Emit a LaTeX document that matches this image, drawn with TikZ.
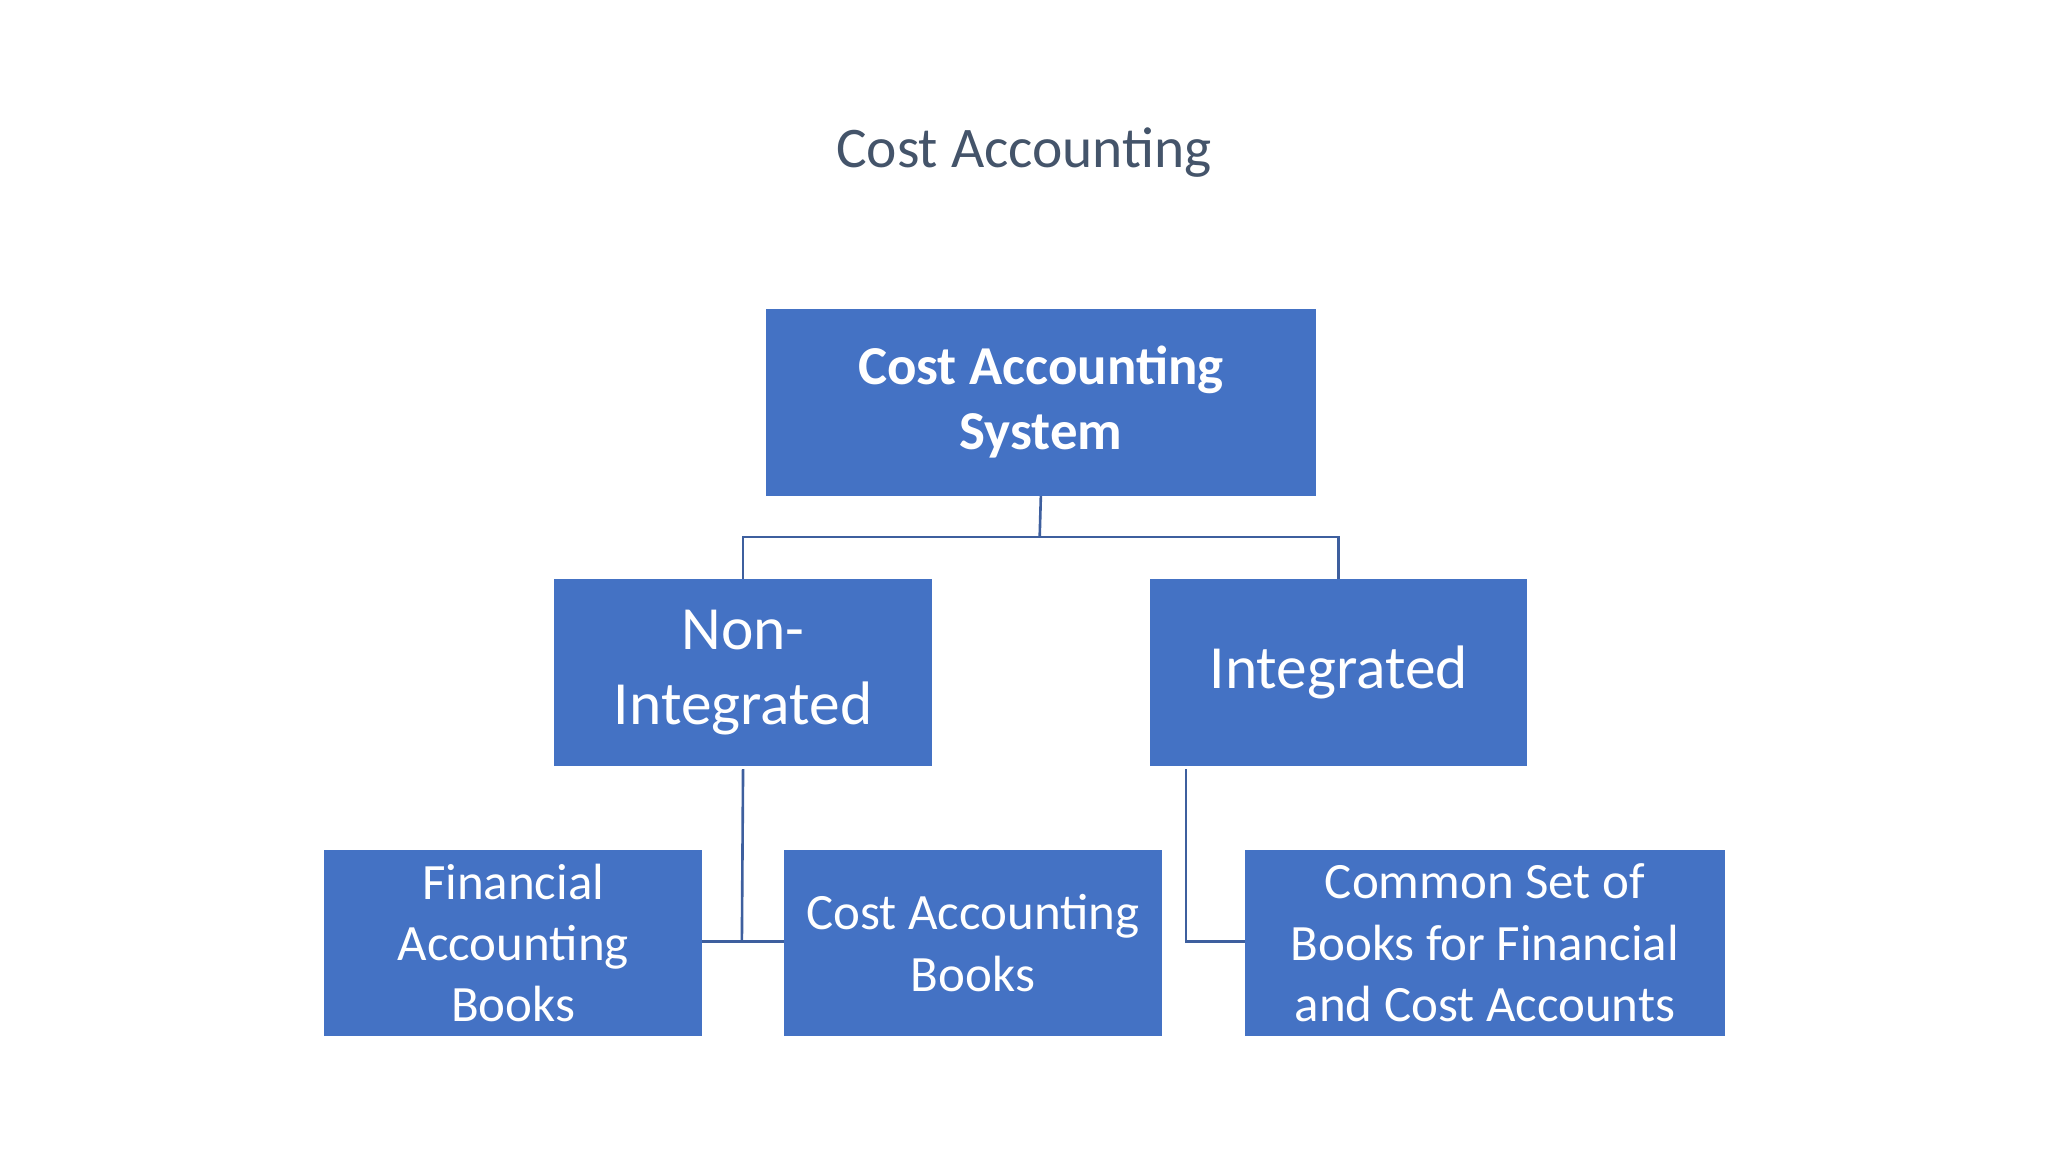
\documentclass[tikz,border=0pt]{standalone}
\usepackage{fontspec}
\setmainfont{Carlito}
\definecolor{boxblue}{HTML}{4472C4}
\definecolor{linec}{HTML}{3E5F9E}
\definecolor{titlec}{HTML}{44546A}
\begin{document}
\begin{tikzpicture}[x=0.5pt,y=-0.5pt,
  bx/.style={fill=boxblue,text=white,align=center,inner sep=0pt,anchor=north west},
  ln/.style={draw=linec,line width=1pt}]
\useasboundingbox (0,0) rectangle (1568,882);
\node[text=titlec,font=\fontsize{22}{26}\selectfont] (title) at (784,117) {Cost Accounting};
\node[bx,minimum width=210.5pt,minimum height=71.5pt,font=\bfseries\fontsize{21}{25}\selectfont] (top) at (586,236) {Cost Accounting\\System};
\node[bx,minimum width=144.5pt,minimum height=71.5pt,font=\fontsize{23.5}{28.5}\selectfont] (non) at (424,443) {Non-\\Integrated};
\node[bx,minimum width=144.5pt,minimum height=71.5pt,font=\fontsize{23.5}{28.5}\selectfont] (int) at (880,443) {Integrated};
\node[bx,minimum width=144.5pt,minimum height=71.5pt,font=\fontsize{19.5}{23.5}\selectfont] (fin) at (248,650) {Financial\\Accounting\\Books};
\node[bx,minimum width=144.5pt,minimum height=71.5pt,font=\fontsize{19.5}{23.5}\selectfont] (cab) at (600,650) {Cost Accounting\\Books};
\node[bx,minimum width=183.5pt,minimum height=71.5pt,font=\fontsize{19.5}{23.5}\selectfont] (com) at (953,650) {Common Set of\\Books for Financial\\and Cost Accounts};
\coordinate (j1) at (796,411);
\coordinate (j2) at (568,721);
\coordinate (j3) at (908,721);
\draw[ln] (top.south) -- (j1);
\draw[ln] (j1) -| (non.north);
\draw[ln] (j1) -| (int.north);
\draw[ln] ([yshift=-1pt]non.south) -- (j2);
\draw[ln] (fin.east |- j2) -- (cab.west |- j2);
\draw[ln] ([yshift=-1pt]int.south west) ++(28,0) coordinate (s3) -- (j3) -- (com.west |- j3);
\end{tikzpicture}
\end{document}
